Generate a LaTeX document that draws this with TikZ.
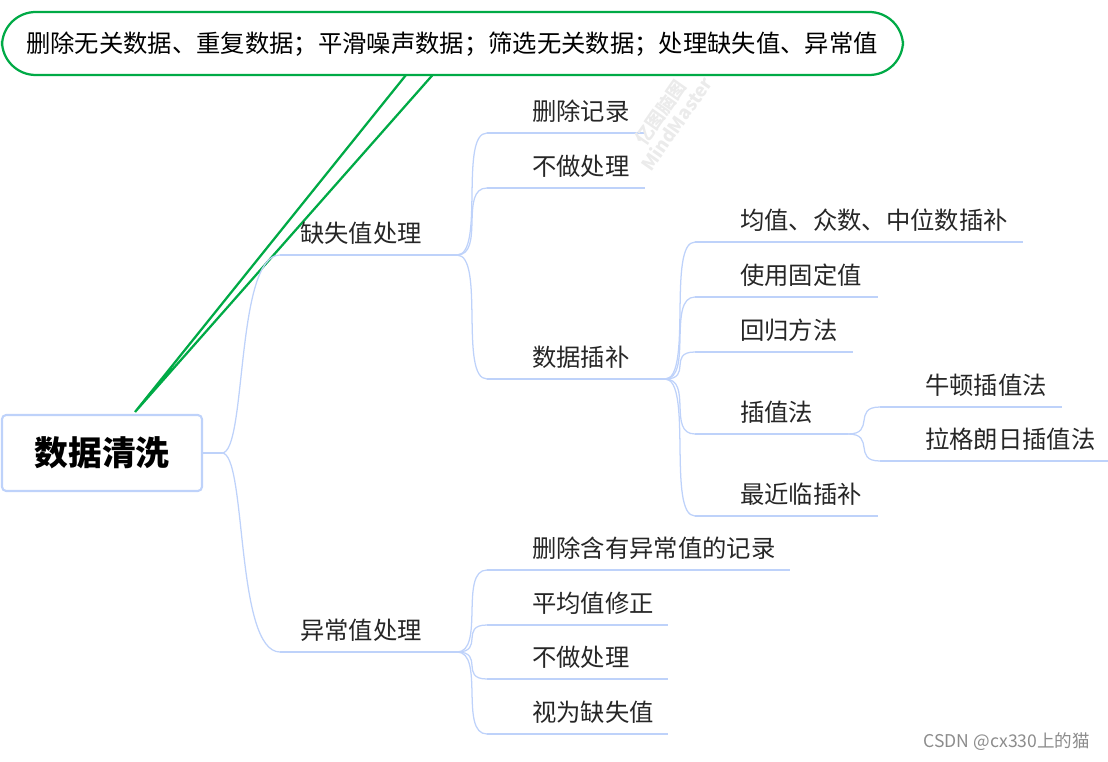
\documentclass[tikz,border=0pt]{standalone}
\usepackage{fontspec}
\setmainfont{Noto Sans CJK SC}
\usetikzlibrary{calc}
\begin{document}
\begin{tikzpicture}
        [x=0.025cm,y=-0.025cm,
         lbl/.style={anchor=south west,inner sep=0pt,yshift=7pt,font=\fontsize{17.3}{19}\selectfont,text=black!85},
         edge/.style={draw=linkblue,line width=0.9pt},
         under/.style={draw=linkblue,line width=0.9pt}]
        \definecolor{calloutgreen}{RGB}{0,170,70}
        \definecolor{linkblue}{RGB}{190,210,250}
        \useasboundingbox (0,0) rectangle (1108,761);

        % callout
        \filldraw[draw=calloutgreen,fill=white,line width=1.6pt] (410,70) -- (135,412) -- (437,70) -- cycle;
        \draw[draw=calloutgreen,fill=white,line width=1.6pt,rounded corners=24] (2,12) rectangle (903,75);
        \node (note) at (452,44) {\fontsize{17.3}{19}\selectfont 删除无关数据、重复数据；平滑噪声数据；筛选无关数据；处理缺失值、异常值};

        % root
        \node[draw=linkblue,line width=1.5pt,rounded corners=3,minimum width=5cm,minimum height=1.9cm,
              font=\fontsize{24}{26}\bfseries\selectfont] (root) at (102,453) {数据清洗};
        \coordinate (rootend) at (222,453);
        \draw[edge] (root.east) -- (rootend);

        % level 1
        \node[lbl] (miss) at (300,255) {缺失值处理};
        \node[lbl] (abn) at (300,652) {异常值处理};
        \draw[under] (280,255) coordinate (missA) -- (457,255) coordinate (missB);
        \draw[under] (280,652) coordinate (abnA) -- (457,652) coordinate (abnB);
        \foreach \c in {missA,abnA}
          \draw[edge] (rootend) .. controls ($(rootend)+(25,0)$) and ($(\c)+(-45,0)$) .. (\c);

        % level 2 and below
        \foreach \nm/\txt/\px/\py/\x/\y/\len in {
            del/删除记录/457/255/487/133/158,
            skip/不做处理/457/255/487/188/158,
            fill/数据插补/457/255/487/379/178,
            mean/均值、众数、中位数插补/665/379/695/242/328,
            fixed/使用固定值/665/379/695/297/183,
            reg/回归方法/665/379/695/352/158,
            interp/插值法/665/379/695/434/153,
            near/最近临插补/665/379/695/516/183,
            newton/牛顿插值法/848/434/880/407/182,
            lagr/拉格朗日插值法/848/434/880/461/228,
            delab/删除含有异常值的记录/457/652/487/570/303,
            avg/平均值修正/457/652/487/625/181,
            skipab/不做处理/457/652/487/679/181,
            asmiss/视为缺失值/457/652/487/734/181}
        {
          \node[lbl] (\nm) at (\x+45,\y) {\txt};
          \draw[under] (\x,\y) -- ++(\len,0);
          \draw[edge] (\px,\py) .. controls (\px+28,\py) and (\x-28,\y) .. (\x,\y);
        }

        % watermark and credit
        \node[rotate=55,text=black!8,font=\fontsize{13}{14}\bfseries\selectfont,align=center] (mark) at (668,118) {亿图脑图\\MindMaster};
        \node[anchor=south east,text=black!45,font=\fontsize{12.5}{13}\selectfont] (credit) at (1095,755) {CSDN @cx330上的猫};
      \end{tikzpicture}
\end{document}
